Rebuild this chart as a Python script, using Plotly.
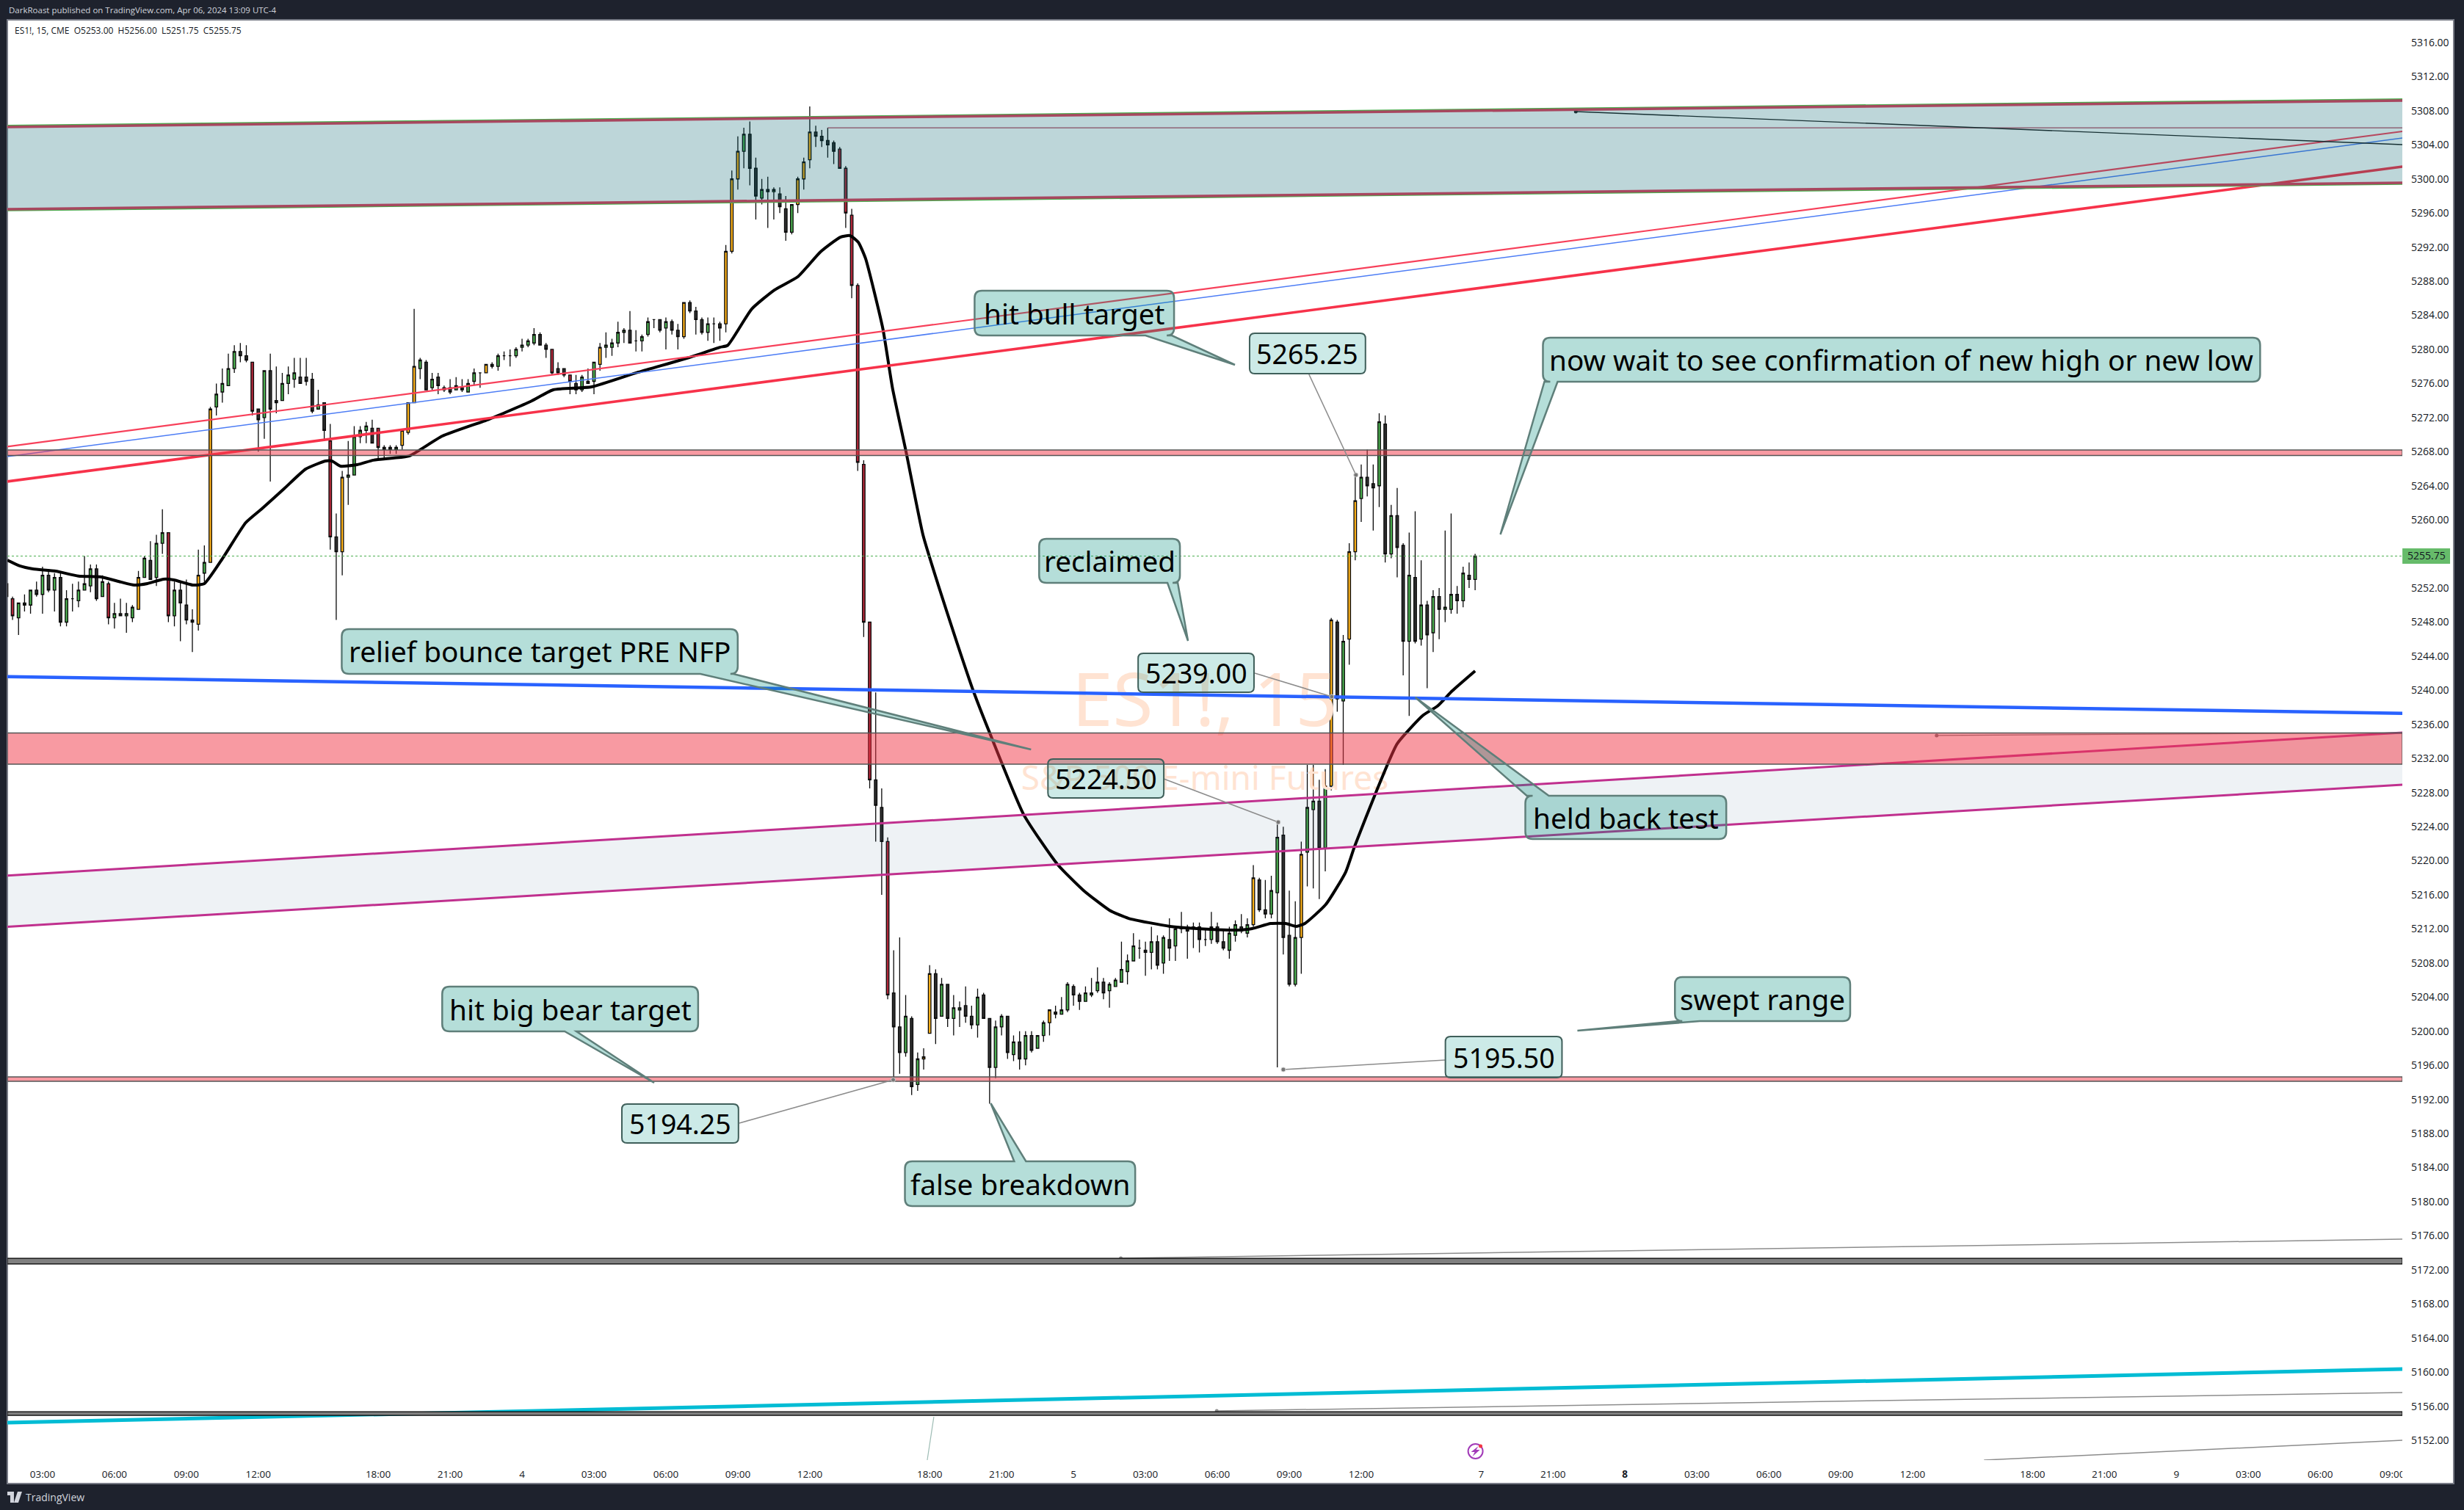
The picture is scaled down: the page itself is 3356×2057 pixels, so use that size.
import plotly.graph_objects as go

W, H = 3356, 2057
# pane edges in the screenshot
pane_l, pane_r, pane_t, pane_b = 10, 3276, 27, 1989
x_left, x_right = -5.87, 393.7
y_low, y_high = 5149.68, 5318.67

first_bar = -6
opens = [5252.5,5250.75,5248.5,5250.25,5250,5251.75,5251.25,5253.5,5251.75,5253.25,
    5248,5250.75,5250.5,5251.75,5252.25,5254.25,5251,5252.5,5248.5,5249,
    5248.75,5248.5,5249.5,5253.25,5255.25,5253.25,5257.25,5258.5,5248.75,5251.75,
    5250,5248.25,5247.75,5253.75,5255,5273.25,5275,5275.75,5277.75,5279.75,
    5279.25,5278.5,5273,5272,5277.5,5274,5274,5276,5276.5,5276.75,
    5276.75,5276.5,5273,5273.75,5269.25,5258,5256.25,5265,5265.25,5269.75,
    5270.5,5270.75,5270.75,5268.5,5268.5,5268.25,5268.75,5270.25,5273.75,5277.75,
    5278.5,5275.5,5276.75,5275.5,5275.5,5275.25,5275.5,5275,5276.25,5277.25,
    5277.25,5278.25,5278,5279.25,5279.25,5279.25,5280.25,5280.5,5280.75,5281.75,
    5280.5,5280,5277.75,5277.75,5277,5276,5275.25,5276.25,5276.25,5278.25,
    5280.25,5280.25,5280.75,5282,5282.25,5281,5281,5281.75,5283.5,5283.5,
    5282.5,5283.25,5282.25,5281.5,5285.5,5284.5,5283.5,5282,5283,5283,
    5283,5291.5,5300,5303.25,5305.25,5301.25,5297.75,5298.75,5298.5,5298.25,
    5296.5,5293.75,5297,5300,5302.25,5305.5,5305,5304.5,5304.25,5303.5,
    5301.25,5295.75,5287.5,5266.5,5248,5229.5,5226.25,5222.25,5204.5,5200.5,
    5197.5,5201.5,5193.75,5196.75,5199.75,5206.75,5201.75,5205.5,5201.5,5202.5,
    5203,5201.75,5200.75,5204.25,5201.5,5195.75,5200.5,5201.75,5197.25,5198.75,
    5196.75,5199.5,5198,5199.5,5201,5202.25,5202,5202.5,5205.25,5204.25,
    5203.5,5204.25,5204.75,5205.75,5204.75,5205.25,5205.75,5207,5208.25,5209.75,
    5209.5,5209.25,5210.5,5208,5210.75,5210,5212,5212.25,5212,5212.25,
    5210.75,5210.75,5212.25,5210.5,5209.5,5211.25,5212.25,5211.5,5212.5,5217.75,
    5214.25,5213.75,5216.25,5223,5211.25,5205.5,5211,5221,5226,5227,
    5221.5,5228.75,5248,5238.75,5246,5256.25,5262.5,5265,5264.25,5264,
    5271.25,5256,5260.5,5257,5245.75,5253.25,5246,5250,5246.75,5251,
    5249.5,5249.5,5251.25,5250.5,5253.5,5253]
highs = [5252.5,5251,5250.25,5251.25,5251.75,5252.75,5254.5,5254.25,5253.75,5253.75,
    5251.75,5252.5,5252.75,5255.75,5254.75,5254.75,5253.5,5252.75,5250.25,5250.75,
    5250.25,5250,5254,5255.75,5257.5,5258.25,5261.25,5258.5,5252.75,5252.75,
    5253,5249.5,5256.5,5257,5273.25,5276,5277.75,5279.5,5280.5,5280.75,
    5280.5,5278.5,5273,5277.5,5279.5,5278,5277.25,5278,5279,5279,
    5279,5277.25,5275.25,5273.75,5271.25,5260.75,5265.75,5269.25,5271,5271,
    5271.5,5271.75,5270.75,5268.75,5268.75,5268.75,5270.5,5273.75,5284.75,5279,
    5278.75,5277.25,5277.25,5275.75,5276.5,5276.75,5276.5,5276.5,5277.75,5277.25,
    5278.25,5278.5,5279.5,5279.75,5280,5280.25,5281.25,5281.25,5282.5,5282,
    5280.75,5280,5278.5,5277.75,5277,5277,5277,5277.75,5278.5,5280.75,
    5282,5281.25,5283.25,5282.5,5284.5,5282.25,5281.75,5283.75,5283.5,5283.5,
    5283.75,5283.5,5283,5285.5,5285.75,5285,5283.75,5283.75,5283.75,5283.25,
    5292.25,5301,5305,5306,5306.75,5302.5,5300,5300.25,5299,5299,
    5298,5297,5300.25,5302.5,5308.5,5306.25,5305.75,5306,5304.5,5303.75,
    5301.5,5296.5,5287.75,5267,5248,5239.75,5228.5,5222.75,5209.5,5211,
    5204.25,5201.75,5197.5,5198,5207.75,5207.25,5206.25,5205.5,5204.25,5203.5,
    5205.25,5203,5205,5204.5,5201.5,5201.25,5202,5201.75,5199.5,5200,
    5200,5200,5199.5,5201.25,5202.5,5203,5204,5205.75,5205.5,5204.5,
    5205.25,5206.25,5207.5,5206.25,5205.75,5206.25,5210.5,5209,5211.5,5210.75,
    5210.5,5212.25,5211.25,5211.25,5213.25,5212.25,5214,5212.5,5212.75,5212.75,
    5212,5214,5212.75,5212,5212.25,5213,5213.75,5213.25,5219.5,5218,
    5217.75,5218.25,5224.25,5224,5216.5,5215.25,5222.25,5231.25,5231.25,5229.5,
    5230.75,5248.5,5248.25,5246.5,5257.25,5265.25,5266.5,5268.25,5266.5,5272.5,
    5272.25,5261.75,5263.75,5257.25,5258.5,5261,5255.25,5250.5,5251.75,5252,
    5258.75,5260.75,5252.25,5254.5,5255,5256]
lows = [5251,5248.25,5246.5,5249.25,5249,5251,5249,5251.5,5249.25,5247.5,
    5247.5,5249.25,5249.75,5251.75,5251.5,5250.5,5251,5247.75,5247.25,5248.75,
    5246.75,5248,5249.5,5253.25,5253,5252.25,5256,5248,5247.5,5245.75,
    5247.75,5244.5,5247,5252.75,5255,5272.25,5273.75,5275.75,5277.25,5278.5,
    5278.5,5272.25,5268,5269.5,5264.5,5272.5,5274,5274.75,5275.5,5276,
    5275.75,5272.5,5273,5269.25,5256.5,5248.25,5253.5,5261.75,5265.25,5269,
    5269,5269,5267.25,5267.25,5267.75,5267.75,5268.25,5270,5273.75,5276.5,
    5275.25,5275.25,5274.75,5275,5274.75,5275.25,5275,5275,5275.75,5275.5,
    5277.25,5277.75,5277.5,5278.75,5278,5279,5279.75,5280.25,5280.5,5280.5,
    5279,5277,5277,5276.75,5274.75,5274.75,5275,5276,5274.75,5277.5,
    5279,5279.25,5280.25,5280.75,5280.75,5279.75,5279.75,5281.5,5282.5,5282,
    5280,5281.75,5280,5281.25,5284.25,5281.75,5281.75,5281,5280.75,5281,
    5282,5291.25,5298.75,5301.25,5299.25,5295.25,5297,5294.25,5295.25,5296,
    5292.75,5293.5,5296,5298.75,5301.25,5303.75,5303.75,5302.5,5301.75,5301.25,
    5294.25,5286,5265.75,5246.25,5228.5,5222.25,5216,5203.75,5194.25,5195,
    5197,5192.5,5193,5195.5,5199.75,5198.5,5201.75,5200.5,5199.5,5200.5,
    5201,5200.25,5199.25,5201.5,5191.5,5194.5,5199.5,5196.75,5196.5,5195.5,
    5196,5197.5,5198,5198.75,5199.5,5201.5,5202,5202.25,5203,5202.5,
    5203.5,5204,5204.5,5203.75,5202.75,5205.25,5205.75,5205.5,5208.25,5208.5,
    5206.5,5207.25,5207.25,5206.75,5208.25,5208.25,5211.5,5208.5,5209.75,5209.25,
    5210,5210.25,5210.25,5209.5,5208.5,5210.5,5211.5,5211,5212.25,5214,
    5213.25,5213.25,5195.75,5209,5205.25,5205.25,5206.75,5217,5216.75,5215.5,
    5218.75,5228.25,5237.5,5231.25,5243,5255.25,5259.75,5262.75,5258.75,5261.5,
    5255,5255.5,5253.25,5241.75,5237,5245.5,5245.25,5240.25,5244.5,5246,
    5248,5249,5249,5249.75,5252,5251.75]
closes = [5251,5248.75,5250.25,5250,5251.75,5251.25,5253.5,5251.75,5253.25,5248,
    5250.75,5250.75,5251.75,5252.5,5254.25,5250.75,5252.75,5248.5,5249,5248.75,
    5249,5249.75,5253.25,5255.5,5253,5257.25,5258.5,5248.75,5251.75,5250.25,
    5248.25,5248,5253.5,5255,5273,5274.75,5276,5277.75,5279.75,5279.25,
    5278.75,5272.75,5271.75,5277.5,5273,5273.75,5276,5277,5277.25,5276,
    5276.25,5272.75,5273.5,5270.5,5258,5256.25,5265,5265.25,5269.75,5270.5,
    5271,5269,5268.5,5268.25,5268.25,5268.5,5270.5,5273.75,5278,5278.75,
    5275.25,5276.5,5275.75,5275.25,5275,5275.75,5275.25,5276,5277.25,5277.25,
    5278.25,5278,5279.25,5279.25,5279.25,5280,5280.5,5281,5281.75,5280.5,
    5280,5277.25,5277.25,5277,5276.25,5275.25,5276.75,5276,5278.5,5280.25,
    5280.5,5280.75,5282,5282.25,5280.75,5281,5281.5,5283.25,5283.5,5282.25,
    5283.25,5282.25,5281.5,5285.5,5284.5,5283.5,5282,5283,5283,5282.5,
    5291.5,5300,5303.25,5305.25,5301.25,5298,5298.75,5298.5,5298.75,5296.75,
    5293.75,5297,5300,5302,5305.5,5305,5304.5,5304,5303.25,5301.25,
    5296,5287.5,5266.75,5248,5229.5,5226.5,5222.25,5204.25,5200.5,5197.5,
    5201.75,5193.5,5196.75,5197,5206.75,5201.5,5205.5,5201.5,5202.75,5202.75,
    5201.75,5200.75,5204,5201.5,5195.75,5200.5,5201.75,5197.5,5198.75,5196.75,
    5199.5,5197.75,5199.5,5201,5202.5,5202,5202.5,5205.5,5204.25,5203.5,
    5204.5,5204.5,5205.75,5204.5,5205.5,5206,5207.25,5208.25,5210,5209.75,
    5209.25,5210.5,5207.75,5211,5209.75,5212,5212.25,5211.75,5212.25,5210.75,
    5210.75,5212.25,5210.5,5209.75,5211.5,5212.5,5211.75,5212.5,5218,5214.25,
    5213.75,5216.5,5222.75,5211,5205.5,5211,5220.75,5226.25,5227,5221.5,
    5228.75,5248.25,5239,5245.75,5256.25,5262.25,5265,5264,5263.75,5271.5,
    5256,5260.5,5256.75,5245.75,5253.5,5245.75,5250,5246.5,5251,5249.5,
    5249.75,5251.25,5250.5,5253.75,5253,5255.75]
# candle colour groups: r red, g green, d dark, o orange
kinds = """r r g d g d g d g d  g d g g g d g r g d  g g o g d g g r g d  d d o g o g g g g d
d r d g d d g g g d  d d g d r d o g g g  g d r d d g o o o g  d g d d d g d g g d
o d g d d g g g g d  d r d d r d g d g o  g g g g d d g g d d  g d d o d d d g d d
o o o g d d g d g d  d g o o o d d d d r  r r r r r d d r d d  g d g o o d g d g g
d d g d d g g d g d  g d g g o d g g d d  g g g d g g g g g d  d g d g d g g d g d
d g d d g g d g o d  d g g d d g o g g d  g o d g o o g d d g  d g d d g d g d g d
g g d g d g""".split()

ema_x = [-5.87,-3.8,-1.6,2.2,6,9.8,13.1,15.3,17.5,20.2,21.9,25.1,27,30.1,33.9,36.6,40.4,43.9,47.2,48.3,
    49.7,52.5,55.2,58.5,61.2,66.7,74.5,81.4,85.2,91.6,99.4,107.9,113,114.3,118.3,122.1,126,129.8,133.1,134.7,
    136.1,137.3,140.2,141.8,144,146.9,149.4,152.6,155.3,158.1,163.7,169.3,173.7,178,181.2,188.1,194.9,199.3,201.8,204.9,
    207.4,209.2,210.6,214.1,217.4,218.9,222.6,226,230.3,232.7,235.2,239]
ema_y = [5255.28,5254.59,5254.24,5253.98,5253.4,5253.3,5252.7,5252.35,5252.52,5253.04,5252.95,5252.35,5252.52,5255.54,5259.67,5261.31,5263.72,5265.96,5266.9,5266.9,
    5266.3,5266.47,5267,5267.25,5267.5,5269.83,5271.81,5273.88,5275.26,5275.6,5277.33,5279.05,5280.25,5280.47,5284.73,5286.97,5288.52,5291.45,5293.17,5293.35,
    5292.57,5290.68,5282.41,5275.47,5268.2,5258.2,5252.43,5245.5,5239.9,5234.86,5225.4,5219.6,5216.5,5214.2,5213.24,5212.3,5211.95,5211.87,5212.04,5212.64,
    5212.64,5212.3,5212.64,5214.88,5218.67,5221.7,5228.27,5233.74,5237.06,5238.14,5239.94,5242.27]

# trendlines, left and right value at the pane edges
zone_top = [5306.1, 5309.2]
zone_bottom = [5296.45, 5299.55]
red_thin = [5268.6, 5305.58]
blue_thin = [5267.42, 5304.8]
red_thick = [5264.5, 5301.44]
blue_thick = [5241.6, 5237.3]
purple_upper = [5218.27, 5235.04]
purple_lower = [5212.26, 5228.92]
teal_line = [5154.07, 5160.36]
# horizontal price zones (top, bottom)
pink_zones = [(5268.2, 5267.55), (5235, 5231.33), (5194.64, 5194.12)]
grey_zones = [(5173.36, 5172.68), (5155.36, 5154.93)]
last_price = 5255.75
# short anchored lines: bars, prices, colour, width, start dot
anchored = [([131, x_right], [5306, 5306], "#b5495f", 1.2, False),
    ([179.9, x_right], [5173.36, 5175.6], "#8c8c8c", 1.5, True),
    ([195.9, x_right], [5155.45, 5157.6], "#8c8c8c", 1.5, True),
    ([323.9, x_right], [5149.68, 5152], "#8c8c8c", 1.5, False),
    ([147.6, 148.7], [5149.68, 5154.75], "#9dbcb4", 1.2, False),
    ([255.8, x_right], [5307.9, 5304.03], "#202020", 1.4, True),
    ([316, x_right], [5234.7, 5235.03], "#777777", 1.2, True)]

price_ticks = list(range(5152, 5320, 4))
tick_bars = [0,12,24,36,56,68,80,92,104,116,128,148,160,172,184,196,208,220,240,252,264,276,288,300,312,332,344,356,368,380,392]
tick_text = ['03:00','06:00','09:00','12:00','18:00','21:00','4','03:00','06:00','09:00','12:00','18:00','21:00','5',
    '03:00','06:00','09:00','12:00','7','21:00','<b>8</b>','03:00','06:00','09:00','12:00','18:00','21:00','9','03:00','06:00','09:00']

# callouts: text, box x0 y0 x1 y1 (px), tail (side, base a, base b, tip x, tip y)
callouts = [("hit bull target", (1329,396,1601,457), ("bottom",1562,1598,1684,497)),
    ("now wait to see confirmation of new high or new low", (2104,460,3082,520), ("bottom",2106,2124,2046,728)),
    ("reclaimed", (1417,734,1609,794), ("bottom",1592,1606,1620,873)),
    ("relief bounce target PRE NFP", (466,857,1006,918), ("bottom",955,1000,1406,1021)),
    ("held back test", (2080,1084,2354,1143), ("top",2082,2112,1930,950)),
    ("hit big bear target", (603,1344,952,1405), ("bottom",770,786,892,1475)),
    ("false breakdown", (1234,1582,1548,1643), ("top",1383,1399,1351,1503)),
    ("swept range", (2284,1331,2523,1391), ("bottom",2288,2318,2151,1404))]
# price notes: text, box, leader start, leader end
price_notes = [("5265.25", (1704,454,1862,509), (1785,510), (1849,647)),
    ("5239.00", (1552,890,1710,943), (1711,917), (1816,949)),
    ("5224.50", (1429,1034,1587,1087), (1587,1061), (1743,1120)),
    ("5194.25", (848,1504,1007,1557), (1008,1530), (1218,1471)),
    ("5195.50", (1971,1412,2130,1468), (1971,1444), (1750,1457))]


def px(x):
    return x / W

def py(y):
    return 1 - y / H

def bubble(box, tail=None, r=10):
    x0, y0, x1, y1 = box
    pts = ["M%f,%f" % (px(x0 + r), py(y0))]
    def line(x, y):
        pts.append("L%f,%f" % (px(x), py(y)))
    def corner(cx, cy, x, y):
        pts.append("Q%f,%f %f,%f" % (px(cx), py(cy), px(x), py(y)))
    if tail and tail[0] == "top":
        line(tail[1], y0); line(tail[3], tail[4]); line(tail[2], y0)
    line(x1 - r, y0)
    corner(x1, y0, x1, y0 + r)
    line(x1, y1 - r)
    corner(x1, y1, x1 - r, y1)
    if tail and tail[0] == "bottom":
        line(tail[2], y1); line(tail[3], tail[4]); line(tail[1], y1)
    line(x0 + r, y1)
    corner(x0, y1, x0, y1 - r)
    line(x0, y0 + r)
    corner(x0, y0, x0 + r, y0)
    return " ".join(pts) + " Z"

def label(x, y, text, size, color="#000000", anchor="center", family="Noto Sans"):
    fig.add_annotation(xref="paper", yref="paper", x=px(x), y=py(y), text=text, showarrow=False,
        xanchor=anchor, yanchor="middle", font=dict(family=family, size=size, color=color))

def edge_line(vals, color, width):
    fig.add_trace(go.Scatter(x=[x_left, x_right], y=vals, mode="lines", line=dict(color=color, width=width),
        hoverinfo="skip", showlegend=False))

def zone(top, bottom, fill, line_color=None, width=0):
    fig.add_trace(go.Scatter(x=[x_left, x_right, x_right, x_left, x_left], y=[top[0], top[1], bottom[1], bottom[0], top[0]],
        mode="lines", fill="toself", fillcolor=fill, line=dict(color=line_color or "rgba(0,0,0,0)", width=width),
        hoverinfo="skip", showlegend=False))


fig = go.Figure()

# watermark sits under everything
fig.add_trace(go.Scatter(x=[193.9, 193.9], y=[5238, 5229.27], mode="text", text=["ES1!, 15", "S&P 500 E-mini Futures"],
    textfont=dict(family="Noto Sans", size=[100, 46], color="#ffe3d2"), hoverinfo="skip", showlegend=False))

zone(purple_upper, purple_lower, "rgba(33,91,130,0.08)")

bars = list(range(first_bar, first_bar + len(opens)))
fills = {"g": "#4caf50", "d": "#2e2e2e", "o": "#ffb31a", "r": "#b2283a"}
for kind, fill in fills.items():
    keep = [k == kind for k in kinds]
    style = dict(line=dict(color="#0a0a0a", width=1.3), fillcolor=fill)
    fig.add_trace(go.Candlestick(x=bars,
        open=[v if t else None for v, t in zip(opens, keep)],
        high=[v if t else None for v, t in zip(highs, keep)],
        low=[v if t else None for v, t in zip(lows, keep)],
        close=[v if t else None for v, t in zip(closes, keep)],
        increasing=style, decreasing=style, whiskerwidth=0, hoverinfo="skip", showlegend=False))

fig.add_trace(go.Scatter(x=ema_x, y=ema_y, mode="lines", line=dict(color="#000000", width=4, shape="spline", smoothing=0.5),
    hoverinfo="skip", showlegend=False))

edge_line(red_thin, "#f7405a", 2.2)
edge_line(blue_thin, "#4d7df5", 1.5)
edge_line(red_thick, "#f7324a", 3.6)
edge_line(blue_thick, "#2962ff", 4.5)
edge_line(purple_upper, "#c0308e", 3)
edge_line(purple_lower, "#c0308e", 3)
edge_line(teal_line, "#00bcd4", 5)
edge_line([last_price, last_price], "#4caf50", 1)
fig.data[-1].line.dash = "dot"

for xs, ys, color, width, dot in anchored:
    fig.add_trace(go.Scatter(x=xs, y=ys, mode="lines", line=dict(color=color, width=width), hoverinfo="skip", showlegend=False))
    if dot:
        fig.add_trace(go.Scatter(x=xs[:1], y=ys[:1], mode="markers", marker=dict(color=color, size=5), hoverinfo="skip", showlegend=False))

for top, bottom in pink_zones:
    zone([top, top], [bottom, bottom], "rgba(242,54,69,0.5)", "#555555", 1.5)
for top, bottom in grey_zones:
    zone([top, top], [bottom, bottom], "#808080", "#000000", 1.3)

zone(zone_top, zone_bottom, "rgba(0,97,108,0.26)")
edge_line([v + 0.14 for v in zone_top], "#4caf50", 2.5)
edge_line(zone_top, "#a8475f", 3.5)
edge_line([v - 0.14 for v in zone_bottom], "#4caf50", 2.5)
edge_line(zone_bottom, "#a8475f", 3.5)

shapes = [dict(type="rect", xref="paper", yref="paper", x0=px(pane_l), x1=px(3346), y0=py(pane_t), y1=py(2021),
    fillcolor="#ffffff", line=dict(color="#787b86", width=2), layer="below")]

for text, box, tail in callouts:
    shapes.append(dict(type="path", xref="paper", yref="paper", path=bubble(box, tail), fillcolor="rgba(0,140,125,0.29)",
        line=dict(color="#5f7f7a", width=2.5), layer="above"))
for text, box, start, end in price_notes:
    shapes.append(dict(type="line", xref="paper", yref="paper", x0=px(start[0]), y0=py(start[1]), x1=px(end[0]), y1=py(end[1]),
        line=dict(color="#8c8c8c", width=1.6), layer="above"))
    shapes.append(dict(type="circle", xref="paper", yref="paper", x0=px(end[0] - 3), x1=px(end[0] + 3), y0=py(end[1] - 3), y1=py(end[1] + 3),
        fillcolor="#777777", line=dict(color="#cccccc", width=1), layer="above"))
    shapes.append(dict(type="path", xref="paper", yref="paper", path=bubble(box, None, 7), fillcolor="rgba(0,150,136,0.2)",
        line=dict(color="#3f5f5a", width=2), layer="above"))

# last price tag, clipped corner of the time axis, event icon
shapes.append(dict(type="rect", xref="paper", yref="paper", x0=px(3276), x1=px(3341), y0=py(747), y1=py(768),
    fillcolor="#66bb6a", line=dict(width=0), layer="above"))
shapes.append(dict(type="rect", xref="paper", yref="paper", x0=px(3276), x1=px(3344), y0=py(1992), y1=py(2018),
    fillcolor="#ffffff", line=dict(width=0), layer="above"))
shapes.append(dict(type="circle", xref="paper", yref="paper", x0=px(2002), x1=px(2022), y0=py(1967), y1=py(1987),
    fillcolor="rgba(0,0,0,0)", line=dict(color="#a23bb8", width=2), layer="above"))
shapes.append(dict(type="path", xref="paper", yref="paper", path=" ".join(["M%f,%f" % (px(2016), py(1970))] + ["L%f,%f" % (px(a), py(b)) for a, b in
    [(2006, 1978), (2011, 1978), (2008, 1984), (2018, 1975), (2013, 1975)]]) + " Z", fillcolor="#a23bb8", line=dict(width=0), layer="above"))
shapes.append(dict(type="circle", xref="paper", yref="paper", x0=px(2016.5), x1=px(2021.5), y0=py(1967.5), y1=py(1972.5),
    fillcolor="#f23645", line=dict(width=0), layer="above"))
# TradingView mark in the footer
shapes.append(dict(type="path", xref="paper", yref="paper", path=" ".join(["M%f,%f" % (px(10), py(2032))] + ["L%f,%f" % (px(a), py(b)) for a, b in
    [(19, 2032), (19, 2047), (14, 2047), (14, 2037), (10, 2037)]]) + " Z", fillcolor="#d1d4dc", line=dict(width=0)))
shapes.append(dict(type="path", xref="paper", yref="paper", path=" ".join(["M%f,%f" % (px(24), py(2032))] + ["L%f,%f" % (px(a), py(b)) for a, b in
    [(30, 2032), (25, 2047), (19, 2047)]]) + " Z", fillcolor="#d1d4dc", line=dict(width=0)))

fig.update_layout(width=W, height=H, autosize=False, margin=dict(l=0, r=0, t=0, b=0), paper_bgcolor="#1e222d", plot_bgcolor="#ffffff",
    showlegend=False, boxmode="overlay", boxgap=0.38, shapes=shapes, hovermode=False,
    xaxis=dict(domain=[px(pane_l), px(pane_r)], range=[x_left, x_right], tickmode="array", tickvals=tick_bars, ticktext=tick_text,
        showgrid=False, zeroline=False, showline=False, ticks="outside", ticklen=7, tickcolor="#ffffff",
        tickfont=dict(family="Open Sans", size=13.5, color="#131722"), rangeslider=dict(visible=False)),
    yaxis=dict(domain=[py(pane_b), py(pane_t)], range=[y_low, y_high], side="right", tickmode="array", tickvals=price_ticks,
        ticktext=["%.2f" % v for v in price_ticks], showgrid=False, zeroline=False, showline=False, ticks="outside", ticklen=8,
        tickcolor="#ffffff", tickfont=dict(family="Open Sans", size=14, color="#131722")))

for text, box, tail in callouts:
    label((box[0] + box[2]) / 2, (box[1] + box[3]) / 2, text, 38.7)
for text, box, start, end in price_notes:
    label((box[0] + box[2]) / 2, (box[1] + box[3]) / 2, text, 37.5)

label(3308.5, 757, "5255.75", 14, "#131722", family="Open Sans")
label(10, 14, "DarkRoast published on TradingView.com, Apr 06, 2024 13:09 UTC-4", 11.5, "#d1d4dc", "left", "Open Sans")
label(18, 42, "ES1!, 15, CME&nbsp;&nbsp;O5253.00&nbsp;&nbsp;H5256.00&nbsp;&nbsp;L5251.75&nbsp;&nbsp;C5255.75", 12, "#131722", "left", "Open Sans")
label(33, 2039, "TradingView", 14, "#d1d4dc", "left", "Open Sans")

# page margin would shift the whole screenshot
fig.write_html("out.html", config={"displayModeBar": False},
    post_script="document.body.style.margin='0';document.body.style.background='#1e222d';")
